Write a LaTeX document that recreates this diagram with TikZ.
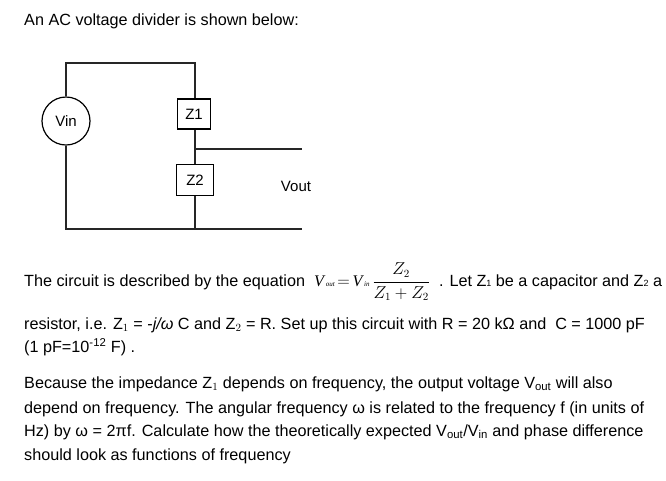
\documentclass[tikz,border=0pt]{standalone}
\usepackage{fontspec}
\setmainfont{Liberation Sans}
\newfontfamily\tms{Liberation Serif}
\begin{document}
\begin{tikzpicture}[x=1pt,y=-1pt,
  wire/.style={line width=1.2pt,black!85},
  zbox/.style={draw,line width=1.2pt,fill=white,inner sep=0pt},
  txt/.style={anchor=west,inner sep=0pt,font=\fontsize{16.2}{18}\selectfont},
  jline/.style={txt},
  lbl/.style={font=\fontsize{15}{18}\selectfont,inner sep=0pt}]
\useasboundingbox (0,0) rectangle (666,480);
% circuit
\node[circle,draw,line width=1.2pt,minimum size=48pt,inner sep=0pt,lbl] (vin) at (66,121) {Vin};
\node[zbox,minimum width=33pt,minimum height=30pt,lbl] (z1) at (194,114) {Z1};
\node[zbox,minimum width=37pt,minimum height=31pt,lbl] (z2) at (195,180) {Z2};
\coordinate (tl) at (66,63); \coordinate (tr) at (195,63);
\coordinate (bl) at (66,229); \coordinate (bm) at (195,229); \coordinate (br) at (302,229);
\coordinate (mm) at (195,149); \coordinate (mr) at (302,149);
\draw[wire] (vin.north) -- (tl) -- (tr) -- (tr|-z1.north);
\draw[wire] (vin.south) -- (bl) -- (br);
\draw[wire] (tr|-z1.south) -- (tr|-z2.north);
\draw[wire] (tr|-z2.south) -- (bm);
\draw[wire] (mm) -- (mr);
\node[lbl] (vout) at (296,186) {Vout};
% text
\node[txt] (t0) at (24,21) {An AC voltage divider is shown below:};
\node[txt] (t1) at (24,282) {The circuit is described by the equation \ {\tms\itshape V}{\tms\itshape\scriptsize\ out}\,$=$\,{\tms\itshape V}{\tms\itshape\scriptsize\ in}\,$\displaystyle\frac{Z_2}{Z_1+Z_2}$ \ . Let Z{\small 1} be a capacitor and Z{\small 2} a};
\node[jline] (t2) at (24,325) {resistor, i.e. Z$_1$ = -\textit{j/ω} C and Z$_2$ = R. Set up this circuit with R = 20 kΩ and \ C = 1000 pF};
\node[txt] (t3) at (24,347) {(1 pF=10\textsuperscript{-12} F) .};
\node[jline] (t4) at (24,384) {Because the impedance Z$_1$ depends on frequency, the output voltage V$_{\mathrm{out}}$ will also};
\node[jline] (t5) at (24,409) {depend on frequency. The angular frequency ω is related to the frequency f (in units of};
\node[jline] (t6) at (24,432) {Hz) by ω = 2πf. Calculate how the theoretically expected V$_{\mathrm{out}}$/V$_{\mathrm{in}}$ and phase difference};
\node[txt] (t7) at (24,456) {should look as functions of frequency};
\end{tikzpicture}
\end{document}
